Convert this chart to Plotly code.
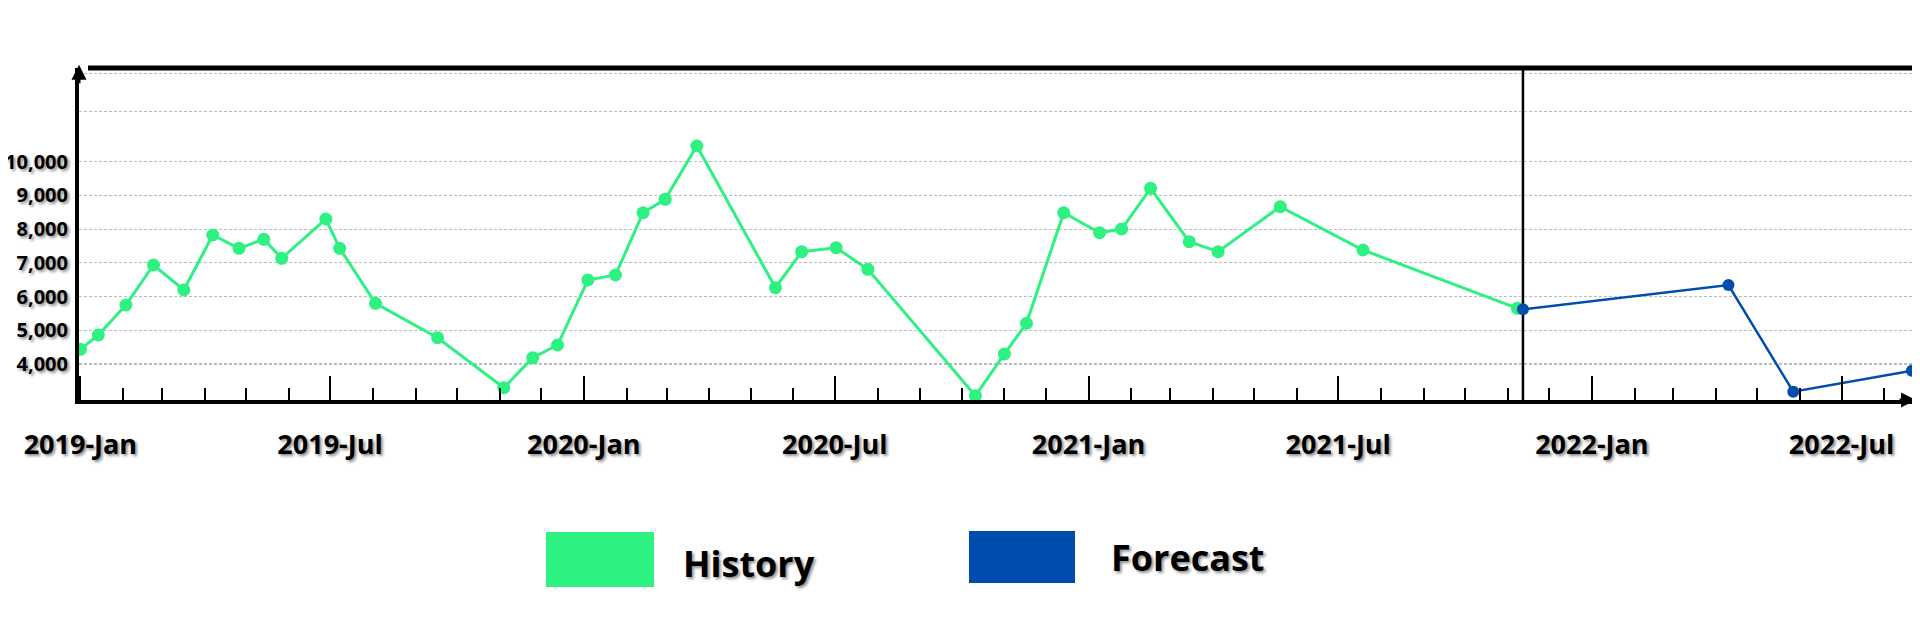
#History vs forecast line chart
import plotly.graph_objects as go

#Data
history_dates = ["2019-01-01", "2019-01-14", "2019-02-03", "2019-02-23", "2019-03-17",
                 "2019-04-07", "2019-04-26", "2019-05-14", "2019-05-27", "2019-06-28",
                 "2019-07-08", "2019-08-03", "2019-09-17", "2019-11-04", "2019-11-25",
                 "2019-12-13", "2020-01-04", "2020-01-24", "2020-02-13", "2020-02-29",
                 "2020-03-23", "2020-05-19", "2020-06-07", "2020-07-02", "2020-07-25",
                 "2020-10-11", "2020-11-01", "2020-11-17", "2020-12-14", "2021-01-09",
                 "2021-01-25", "2021-02-15", "2021-03-15", "2021-04-05", "2021-05-20",
                 "2021-07-19", "2021-11-08"]
history_values = [4440, 4864, 5753, 6938, 6197, 7827, 7433, 7699, 7136, 8301,
                  7433, 5803, 4784, 3302, 4191, 4567, 6493, 6641, 8487, 8884,
                  10464, 6265, 7332, 7450, 6810, 3065, 4301, 5210, 8487, 7895,
                  8004, 9210, 7628, 7332, 8665, 7382, 5655]

forecast_dates = ["2021-11-12", "2022-04-10", "2022-05-27", "2022-08-21"]
forecast_values = [5625, 6345, 3184, 3806]

#y axis ticks (the two top grid lines carry no label)
ytick_vals = [4000, 5000, 6000, 7000, 8000, 9000, 10000, 11500, 12600]
ytick_text = ["4,000", "5,000", "6,000", "7,000", "8,000", "9,000", "10,000", "", ""]

history_color = "#2df181"
forecast_color = "#004dae"
shadow = "2px 2px 3px rgba(0,0,0,0.45)"

#the page body adds an 8px margin, so the figure is made that much smaller
PAGE = 8
W, H = 1920, 635
#plot area in window pixels, used to place the hand made legend
L, R, T, B = 79, 1916, 68, 400
def px(x):
    return (x - L) / (R - L)
def py(y):
    return (B - y) / (B - T)

fig = go.Figure()

fig.add_trace(go.Scatter(x=history_dates, y=history_values, name="History",
                         mode="lines+markers",
                         line=dict(color=history_color, width=3),
                         marker=dict(color=history_color, size=13)))

fig.add_trace(go.Scatter(x=forecast_dates, y=forecast_values, name="Forecast",
                         mode="lines+markers",
                         line=dict(color=forecast_color, width=2.5),
                         marker=dict(color=forecast_color, size=12)))

#vertical line where the forecast starts
fig.add_shape(type="line", xref="x", yref="paper", x0=forecast_dates[0], x1=forecast_dates[0],
              y0=0, y1=1, line=dict(color="black", width=2.5), layer="below")

#the lowest grid line is darker
fig.add_shape(type="line", xref="paper", yref="y", x0=0, x1=1,
              y0=ytick_vals[0], y1=ytick_vals[0],
              line=dict(color="#333333", width=1, dash="3px,2px"), layer="below")

#thicker frame on the top and right side
fig.add_shape(type="line", xref="paper", yref="paper", x0=px(88), x1=1, y0=1, y1=1,
              line=dict(color="black", width=5))
fig.add_shape(type="line", xref="paper", yref="paper", x0=1, x1=1, y0=0, y1=1,
              line=dict(color="black", width=5))

#arrow heads on the axes
fig.add_annotation(xref="paper", yref="paper", x=0, y=1.01, ax=0, ay=20, text="",
                   showarrow=True, arrowhead=2, arrowsize=1, arrowwidth=3, arrowcolor="black")
fig.add_annotation(xref="paper", yref="paper", x=1.0, y=0, ax=-18, ay=0, text="",
                   showarrow=True, arrowhead=2, arrowsize=1, arrowwidth=3, arrowcolor="black")

#legend drawn as big boxes with text
legend_font = dict(family="Open Sans", size=36, color="black", weight="bold", shadow=shadow)
fig.add_shape(type="rect", xref="paper", yref="paper", x0=px(546), x1=px(654),
              y0=py(587), y1=py(532), fillcolor=history_color, line=dict(width=0))
fig.add_annotation(xref="paper", yref="paper", x=px(681), y=py(563), text="History",
                   showarrow=False, xanchor="left", yanchor="middle", font=legend_font)
fig.add_shape(type="rect", xref="paper", yref="paper", x0=px(969), x1=px(1075),
              y0=py(583), y1=py(531), fillcolor=forecast_color, line=dict(width=0))
fig.add_annotation(xref="paper", yref="paper", x=px(1109), y=py(557), text="Forecast",
                   showarrow=False, xanchor="left", yanchor="middle", font=legend_font)

fig.update_layout(
    width=W - PAGE, height=H - PAGE,
    margin=dict(l=L - PAGE, r=W - R, t=T - PAGE, b=H - B, autoexpand=False),
    plot_bgcolor="white", paper_bgcolor="white",
    showlegend=False,
    font=dict(family="Open Sans", color="black"),
)

fig.update_xaxes(
    type="date", range=["2018-12-31", "2022-08-24"],
    tick0="2019-01-01", dtick="M6", tickformat="%Y-%b",
    ticks="inside", ticklen=24, tickwidth=2, tickcolor="black",
    minor=dict(dtick="M1", tick0="2019-01-01", ticks="inside", ticklen=12,
               tickwidth=2, tickcolor="black", showgrid=False),
    showgrid=False, zeroline=False,
    showline=True, linecolor="black", linewidth=4,
    tickfont=dict(family="Open Sans", size=27, color="black", weight="bold", shadow=shadow),
    ticklabelstandoff=18,
)

fig.update_yaxes(
    range=[2938, 12775],
    tickmode="array", tickvals=ytick_vals, ticktext=ytick_text,
    ticks="", showgrid=True, gridcolor="#bdbdbd", gridwidth=1, griddash="3px,2px",
    zeroline=False,
    showline=True, linecolor="black", linewidth=4,
    tickfont=dict(family="Open Sans", size=20, color="black", weight="bold", shadow=shadow),
    ticklabelstandoff=3,
)

fig.write_html("out.html")
